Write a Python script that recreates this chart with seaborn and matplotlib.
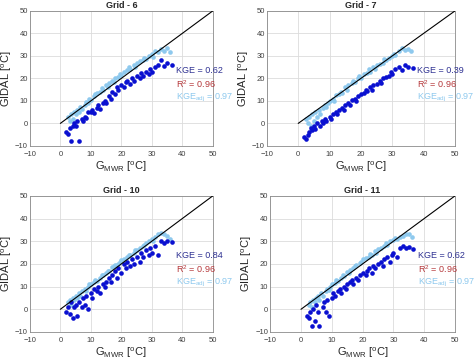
import numpy as np
import pandas as pd
import matplotlib
matplotlib.use('Agg')
import matplotlib.pyplot as plt
import seaborn as sns

# Data (approximate)
grids = ['Grid - 6', 'Grid - 7', 'Grid - 10', 'Grid - 11']
kge = ['0.62', '0.39', '0.84', '0.62']
r2 = ['0.96', '0.96', '0.96', '0.96']
kge_adj = ['0.97', '0.97', '0.97', '0.97']

x_dark = [2, 2.5, 3, 3.5, 4, 4.5, 5, 5.5, 6, 7,
          7.5, 8, 8.5, 9, 10, 10.5, 11, 12, 12.5, 13,
          14, 14.5, 15, 16, 16.5, 17, 18, 18.5, 19, 20,
          21, 21.5, 22, 23, 23.5, 24, 25, 26, 26.5, 27,
          28, 29, 29.5, 30, 31, 32, 33, 34, 35, 36.5]
x_light = [2.5, 3, 3.5, 4, 4.5, 5, 5.5, 6, 6.5, 7,
           8, 8.5, 9, 9.5, 10, 11, 11.5, 12, 13, 13.5,
           14, 15, 15.5, 16, 17, 17.5, 18, 19, 19.5, 20,
           21, 22, 22.5, 23, 24, 24.5, 25, 26, 27, 27.5,
           28, 29, 30, 30.5, 31, 32, 33, 34, 35, 36]

y_dark_6 = [-4, -4.5, -2, -8, -1, 0, -1, 1, -8, 2,
            1, 3, 2.5, 5, 5, 6, 4.5, 7, 8, 6.5,
            9, 10, 9, 12, 11, 14, 13, 16, 15, 17,
            16, 18.5, 19, 17.5, 20, 19, 21, 20, 22.5, 21,
            23, 22, 24, 23, 25, 26, 28, 25.5, 27, 26]
y_light_6 = [3, 1, 4, 2, 5, 4, 6, 5, 7.5, 6.5,
             8, 9.5, 9, 11, 10.5, 12, 13, 13.5, 14, 15.5,
             15, 17, 16, 18, 19, 18.5, 20, 20.5, 22, 21.5,
             23, 23.5, 25, 24, 26, 25, 27, 27.5, 28, 29,
             28.5, 30, 31, 29.5, 32, 31.5, 33, 32, 33.5, 31.5]

y_dark_7 = [-6, -7, -5, -4, -2, -3, -1, -2.5, 0, -1,
            1, 0, 2, 1, 3, 2, 4, 5, 4, 6,
            7, 6, 8, 9, 8, 10.5, 11, 10, 12, 13,
            13.5, 15, 14.5, 16, 15, 17, 17.5, 19, 18, 20,
            20.5, 21, 23, 22, 24, 25, 23.5, 26, 25, 24.5]
y_light_7 = [2, 0, 3, -1, 4, 1, 5, 3, 6, 4,
             7, 8, 7.5, 9, 10, 11, 10, 12.5, 13, 14,
             13.5, 16, 15, 17, 18, 19, 18.5, 20, 21, 20,
             22, 22.5, 24, 23, 25, 24, 26, 26.5, 27, 28.5,
             28, 29, 30, 31, 30.5, 32, 33.5, 32.5, 33, 32]

y_dark_10 = [-1, 1, -2, 3, -4, 1, 2, -3, 3, 1,
             5, 2, 6, 0, 7, 5, 9, 8, 10, 7,
             11, 10, 12, 14, 12, 15, 17, 14, 18, 16,
             20, 18, 21, 19, 22, 20, 23, 21, 25, 23,
             26, 24, 27, 25, 28, 24, 30, 29, 30, 29.5]
y_light_10 = [3, 4, 2, 5, 4, 6, 5, 7, 6, 8,
              9, 8, 10, 11, 11, 12, 13, 12.5, 14, 15,
              15, 16, 17, 17, 18.5, 19, 19.5, 20, 21, 21.5,
              22, 23, 24, 24, 25, 26, 26, 27, 28, 28.5,
              29, 30, 31, 30, 32, 33, 33.5, 33, 32.5, 31]

y_dark_11 = [-3, -4, -1, -7.5, 0, -5, 2, -1, -7.5, 1,
             3, -1, 4, -3, 5, 7, 6, 8, 9, 7,
             10, 9, 11, 12, 13, 11, 14, 13, 15, 16,
             15, 17, 18, 16, 19, 18, 20, 21, 19, 22,
             23, 21, 24, 25, 23, 27, 28, 27, 27.5, 26.5]
y_light_11 = [2, 3, 1, 4, 3, 5, 6, 4, 7, 6,
              8, 9, 8.5, 10, 11, 11.5, 13, 12.5, 14, 15,
              14.5, 16.5, 16, 17.5, 18, 19, 19.5, 20.5, 21, 22,
              22.5, 23, 24.5, 24, 25.5, 25, 26.5, 27, 28, 29,
              28.5, 30, 30.5, 31.5, 31, 32, 32.5, 33, 33, 32]

y_dark = [y_dark_6, y_dark_7, y_dark_10, y_dark_11]
y_light = [y_light_6, y_light_7, y_light_10, y_light_11]

DARK = '#0a10d0'
LIGHT = '#8ec9ee'

sns.set_style('whitegrid')
plt.rcParams['font.family'] = ['Liberation Sans', 'DejaVu Sans']
plt.rcParams['mathtext.fontset'] = 'custom'
plt.rcParams['mathtext.rm'] = 'Liberation Sans'

fig = plt.figure(figsize=(4.74, 3.62), dpi=100)
boxes = [
    [0.063, 0.597, 0.386, 0.373],
    [0.563, 0.597, 0.397, 0.373],
    [0.063, 0.083, 0.386, 0.376],
    [0.570, 0.083, 0.390, 0.376],
]

for i, box in enumerate(boxes):
    ax = fig.add_axes(box)
    df_l = pd.DataFrame({'x': x_light, 'y': y_light[i]})
    df_d = pd.DataFrame({'x': x_dark, 'y': y_dark[i]})
    sns.scatterplot(data=df_l, x='x', y='y', ax=ax, color=LIGHT, s=11, linewidth=0, zorder=3)
    sns.scatterplot(data=df_d, x='x', y='y', ax=ax, color=DARK, s=11, linewidth=0, zorder=4)
    ax.plot([0, 50], [0, 50], color='black', lw=0.8, zorder=5)

    ax.set_xlim(-10, 50)
    ax.set_ylim(-10, 50)
    ax.set_xticks(range(-10, 51, 10))
    ax.set_yticks(range(-10, 51, 10))
    ax.tick_params(labelsize=5.5, colors='#404040', length=0)
    ax.tick_params(axis='x', pad=3.5)
    ax.tick_params(axis='y', pad=1.5)
    ax.grid(True, color='#dcdcdc', lw=0.6)
    for sp in ax.spines.values():
        sp.set_color('#8a8a8a')
        sp.set_linewidth(0.6)
    ax.set_xlabel('G$_{\\mathrm{MWR}}$ [$^{\\mathrm{o}}$C]', fontsize=8, labelpad=1)
    ax.set_ylabel('GIDAL [$^{\\mathrm{o}}$C]', fontsize=8, labelpad=1)
    ax.set_title(grids[i], fontsize=6.5, fontweight='bold', pad=2)

    ax.text(38, 23.5, 'KGE = ' + kge[i], color='#2e3192', fontsize=6.5, va='center')
    ax.text(38, 17.5, 'R$^{\\mathrm{2}}$ = ' + r2[i], color='#b5373a', fontsize=6.5, va='center')
    ax.text(38, 11.5, 'KGE$_{\\mathrm{adj}}$ = ' + kge_adj[i], color=LIGHT, fontsize=6.5, va='center')

fig.savefig('out.png', dpi=100)
